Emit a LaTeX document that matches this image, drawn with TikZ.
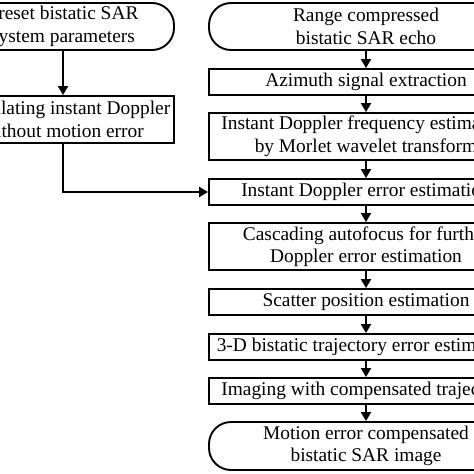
\documentclass[tikz,border=0pt]{standalone}
\usepackage{fontspec}
\setmainfont{Liberation Serif}
\usetikzlibrary{arrows.meta}

\tikzset{
    procbox/.style={rectangle, draw=black, line width=1.9pt, fill=white, align=center, inner sep=0pt, minimum height=26pt},
    termbox/.style={procbox, rounded corners=22pt, minimum height=47pt},
    arr/.style={line width=1.9pt, -{Triangle[length=9pt, width=10pt]}}
}

\begin{document}
\begin{tikzpicture}[x=1pt, y=-1pt, font=\fontsize{19.4}{22.5}\selectfont]
\useasboundingbox (0,0) rectangle (474,474);
\clip (0,0) rectangle (474,474);

% Left column
\node[termbox, minimum width=222pt] (P1) at (63,26.5) {Preset bistatic SAR\\system parameters};
\node[procbox, minimum width=222pt, minimum height=47pt] (P2) at (63,119.5) {Calculating instant Doppler\\without motion error};

% Right column
\node[termbox, minimum width=314pt] (R1) at (366,26.5) {Range compressed\\bistatic SAR echo};
\node[procbox, minimum width=314pt] (R2) at (366,82) {Azimuth signal extraction};
\node[procbox, minimum width=314pt, minimum height=47pt] (R3) at (366,136.5) {Instant Doppler frequency estimation\\by Morlet wavelet transform};
\node[procbox, minimum width=314pt] (R4) at (366,192) {Instant Doppler error estimation};
\node[procbox, minimum width=314pt, minimum height=47pt] (R5) at (366,246.5) {Cascading autofocus for further\\Doppler error estimation};
\node[procbox, minimum width=314pt] (R6) at (366,302) {Scatter position estimation};
\node[procbox, minimum width=314pt] (R7) at (366,347) {3-D bistatic trajectory error estimation};
\node[procbox, minimum width=314pt] (R8) at (366,391) {Imaging with compensated trajectory};
\node[termbox, minimum width=314pt, minimum height=48pt] (R9) at (366,446) {Motion error compensated\\bistatic SAR image};

% Connections
\draw[arr] (P1) -- (P2);
\draw[arr] (P2.south) |- (R4.west);
\foreach \i/\j in {1/2,2/3,3/4,4/5,5/6,6/7,7/8,8/9}
    \draw[arr] (R\i) -- (R\j);

\end{tikzpicture}
\end{document}
